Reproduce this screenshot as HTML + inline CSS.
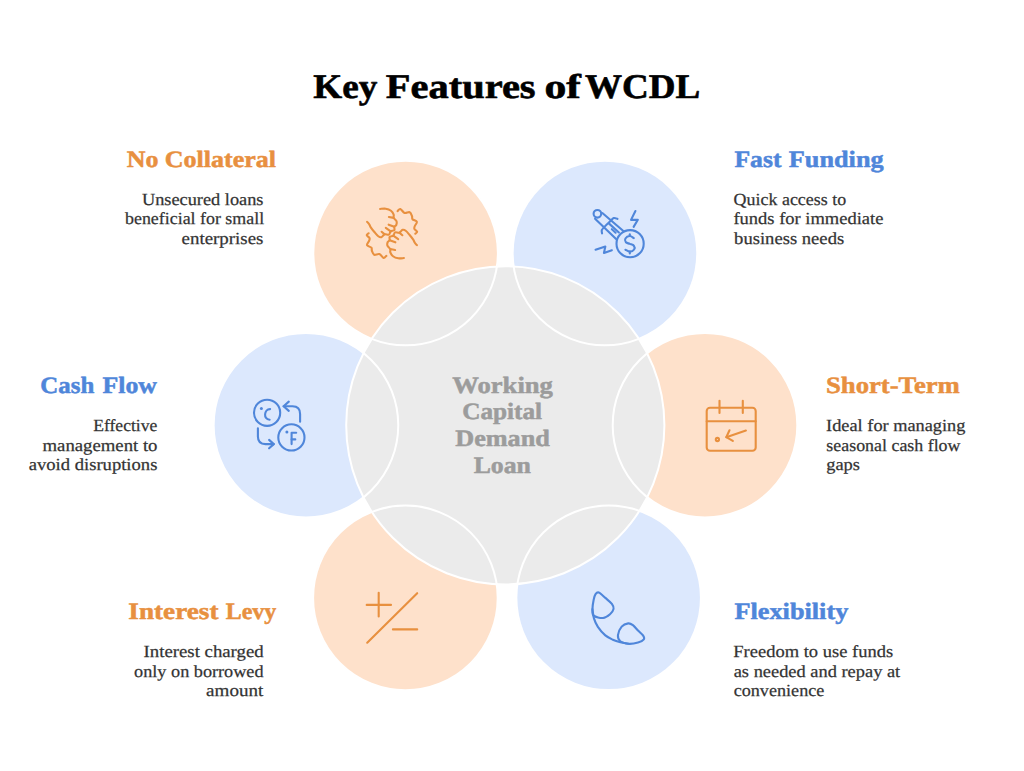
<!DOCTYPE html>
<html><head><meta charset="utf-8"><title>Key Features of WCDL</title>
<style>html,body{margin:0;padding:0;background:#fff;}body{width:1024px;height:771px;overflow:hidden;}svg{display:block;}text{font-family:"Liberation Serif",serif;text-rendering:geometricPrecision;}</style>
</head><body>
<svg width="1024" height="771" viewBox="0 0 1024 771">
<rect width="1024" height="771" fill="#ffffff"/>
<circle cx="405.60" cy="253.00" r="92.3" fill="#fee1cb"/>
<circle cx="604.95" cy="253.00" r="92.3" fill="#dce8fd"/>
<circle cx="705.00" cy="425.20" r="92.3" fill="#fee1cb"/>
<circle cx="608.65" cy="597.80" r="92.3" fill="#dce8fd"/>
<circle cx="405.40" cy="597.90" r="92.3" fill="#fee1cb"/>
<circle cx="305.95" cy="425.20" r="92.3" fill="#dce8fd"/>
<circle cx="505.3" cy="425.3" r="159.1" fill="#ebebeb"/>
<g fill="none" stroke="#ffffff" stroke-width="2">
<circle cx="405.60" cy="253.00" r="92.3"/>
<circle cx="604.95" cy="253.00" r="92.3"/>
<circle cx="705.00" cy="425.20" r="92.3"/>
<circle cx="608.65" cy="597.80" r="92.3"/>
<circle cx="405.40" cy="597.90" r="92.3"/>
<circle cx="305.95" cy="425.20" r="92.3"/>
<circle cx="505.3" cy="425.3" r="159.1"/>
</g>
<g fill="none" stroke="#e8903f" stroke-width="2.10" stroke-linecap="round" stroke-linejoin="round">
<path d="M380.08,208.93 C381.03,208.89 383.97,208.37 385.79,208.67 C387.61,208.97 389.66,209.75 390.98,210.74 C392.29,211.74 393.23,213.44 393.68,214.64 C394.13,215.83 393.19,216.78 393.68,217.90 C394.16,219.03 396.15,220.20 396.58,221.38 C397.01,222.56 396.64,224.10 396.27,225.01 C395.90,225.92 394.67,225.96 394.35,226.83 C394.03,227.69 394.96,229.44 394.35,230.20 C393.74,230.96 391.63,230.66 390.72,231.39 C389.81,232.13 389.91,234.12 388.90,234.61 C387.89,235.10 385.90,233.92 384.65,234.35 C383.39,234.78 382.44,236.88 381.38,237.20 C380.32,237.52 379.43,237.13 378.27,236.27 C377.10,235.41 375.63,233.50 374.38,232.02 C373.12,230.53 371.61,228.64 370.74,227.35 C369.88,226.05 369.79,225.14 369.19,224.23 C368.58,223.33 367.46,222.29 367.11,221.90"/>
<path d="M403.92,258.07 C402.97,258.11 400.03,258.63 398.21,258.33 C396.39,258.03 394.34,257.25 393.02,256.25 C391.71,255.26 390.77,253.56 390.32,252.36 C389.87,251.17 390.81,250.22 390.32,249.09 C389.84,247.97 387.85,246.80 387.42,245.62 C386.99,244.43 387.36,242.89 387.73,241.99 C388.10,241.08 389.33,241.04 389.65,240.17 C389.97,239.31 389.04,237.56 389.65,236.80 C390.26,236.04 392.37,236.34 393.28,235.61 C394.19,234.87 394.09,232.88 395.10,232.39 C396.11,231.90 398.10,233.08 399.35,232.65 C400.61,232.22 401.56,230.12 402.62,229.80 C403.68,229.48 404.57,229.86 405.73,230.73 C406.90,231.59 408.37,233.50 409.62,234.98 C410.88,236.47 412.39,238.36 413.26,239.65 C414.12,240.95 414.21,241.86 414.81,242.77 C415.42,243.67 416.54,244.71 416.89,245.10"/>
<path d="M393.68,217.90 L388.90,216.97"/>
<path d="M390.32,249.09 L395.10,250.03"/>
<path d="M394.35,226.83 L388.64,224.65"/>
<path d="M389.65,240.17 L395.36,242.35"/>
<path d="M390.72,231.39 L385.79,227.97"/>
<path d="M393.28,235.61 L398.21,239.03"/>
<path d="M384.65,234.35 L381.64,231.76"/>
<path d="M399.35,232.65 L402.36,235.24"/>
<path d="M397.55,211.07 C398.02,210.73 399.18,208.71 400.35,209.02 C401.52,209.33 403.00,212.41 404.55,212.94 C406.11,213.47 408.44,211.65 409.69,212.19 C410.93,212.74 411.56,215.02 412.02,216.21 C412.49,217.39 411.68,218.35 412.49,219.29 C413.30,220.22 416.49,220.69 416.88,221.81 C417.27,222.93 415.24,224.84 414.82,226.01 C414.40,227.18 413.97,227.85 414.36,228.81 C414.75,229.78 417.00,230.99 417.16,231.80 C417.31,232.61 415.60,233.36 415.29,233.67"/>
<path d="M386.35,255.89 C385.88,256.23 384.71,258.26 383.54,257.94 C382.38,257.63 380.90,254.55 379.34,254.02 C377.79,253.49 375.45,255.31 374.21,254.77 C372.96,254.22 372.34,251.94 371.87,250.75 C371.41,249.57 372.22,248.61 371.41,247.67 C370.60,246.74 367.41,246.27 367.02,245.15 C366.63,244.03 368.65,242.12 369.07,240.95 C369.49,239.78 369.93,239.11 369.54,238.15 C369.15,237.18 366.89,235.97 366.74,235.16 C366.58,234.35 368.29,233.61 368.61,233.29"/>
</g>
<g fill="none" stroke="#4f86da" stroke-width="2.10" stroke-linecap="round" stroke-linejoin="round">
<circle cx="597.4" cy="213.8" r="3.8"/>
<circle cx="630.1" cy="243.7" r="13.6"/>
<path d="M602.35,213.06 L623.08,230.80"/>
<path d="M595.07,218.66 L616.36,239.20"/>
<path d="M609.08,223.61 L618.88,232.48"/>
<path d="M611.88,229.21 L615.61,232.67"/>
<path d="M617.48,218.85 C616.86,218.72 614.99,217.67 613.75,218.10 C612.50,218.54 611.57,220.00 610.01,221.46 C608.46,222.93 605.78,225.43 604.41,226.88 C603.04,228.33 602.18,229.06 601.79,230.15 C601.41,231.24 602.03,232.87 602.07,233.41"/>
<path d="M635.41,211.01 L631.02,219.88 L637.84,219.69 L633.63,226.88"/>
<path d="M595.54,249.75 L605.34,246.49 L603.94,253.02 L611.88,250.22"/>
<path d="M633.82,238.08 C633.15,237.74 631.21,235.95 629.81,236.03 C628.41,236.11 626.07,237.51 625.42,238.55 C624.76,239.59 625.15,241.40 625.88,242.28 C626.62,243.17 628.48,243.30 629.81,243.87 C631.13,244.45 633.10,244.81 633.82,245.74 C634.54,246.67 634.77,248.49 634.10,249.47 C633.43,250.45 631.25,251.58 629.81,251.62 C628.36,251.67 626.15,250.07 625.42,249.75"/>
<path d="M629.81,234.35 L629.81,236.03"/>
<path d="M629.81,251.62 L629.81,253.40"/>
</g>
<g fill="none" stroke="#e8903f" stroke-width="2.10" stroke-linecap="round" stroke-linejoin="round">
<rect x="706.7" y="407.7" width="49" height="43" rx="3.3" ry="3.3"/>
<path d="M706.7,421.3 L755.7,421.3"/>
<path d="M719.5,400.7 L719.5,412.9"/>
<path d="M742.8,400.7 L742.8,412.9"/>
<circle cx="717.4" cy="439.5" r="1.6"/>
<path d="M745.9,430.6 L726.3,437.2"/>
<path d="M729.5,430.3 L726.3,437.2 L732.8,440.9"/>
</g>
<g fill="none" stroke="#4f86da" stroke-width="2.10" stroke-linecap="round" stroke-linejoin="round">
<path d="M598.81,592.46 C600.44,593.08 603.16,595.96 605.34,597.87 C607.52,599.79 610.51,602.11 611.88,603.94 C613.25,605.78 613.87,607.18 613.56,608.89 C613.25,610.60 611.77,612.70 610.01,614.21 C608.25,615.72 605.73,617.71 603.01,617.95 C600.29,618.18 595.43,617.09 593.67,615.61 C591.91,614.14 592.46,611.72 592.46,609.08 C592.46,606.43 593.16,602.23 593.67,599.74 C594.18,597.25 594.68,595.35 595.54,594.14 C596.39,592.92 597.17,591.84 598.81,592.46Z"/>
<path d="M592.46,609.08 C592.71,610.63 593.05,615.46 593.95,618.41 C594.85,621.37 595.97,623.99 597.87,626.82 C599.77,629.65 602.85,633.26 605.34,635.41 C607.83,637.56 610.32,638.57 612.81,639.70 C615.30,640.84 617.64,641.54 620.28,642.22 C622.93,642.91 627.28,643.55 628.69,643.81"/>
<path d="M628.22,623.36 C630.09,623.11 631.25,623.94 632.89,625.14 C634.52,626.34 636.31,628.79 638.02,630.55 C639.73,632.31 642.19,634.21 643.16,635.69 C644.12,637.17 644.67,638.29 643.81,639.42 C642.96,640.56 640.54,641.77 638.02,642.50 C635.50,643.24 631.64,644.01 628.69,643.81 C625.73,643.61 622.07,642.72 620.28,641.29 C618.49,639.86 617.71,637.66 617.95,635.22 C618.18,632.78 619.97,628.61 621.68,626.63 C623.39,624.65 626.35,623.61 628.22,623.36Z"/>
</g>
<g fill="none" stroke="#e8903f" stroke-width="2.10" stroke-linecap="round" stroke-linejoin="round">
<path d="M366.7,604.9 L391,604.9"/>
<path d="M378.7,592.7 L378.7,616.5"/>
<path d="M417.2,593.2 L367.2,642.7"/>
<path d="M392.9,629.4 L417.2,629.4"/>
</g>
<g fill="none" stroke="#4f86da" stroke-width="2.10" stroke-linecap="round" stroke-linejoin="round">
<circle cx="267.1" cy="412.8" r="13.1"/>
<circle cx="291.4" cy="437.4" r="13.1"/>
<path d="M270.1,409.1 C264.0,409.0 263.0,419.5 269.6,419.8"/>
<path d="M291.6,444.1 L291.6,432.7 L296.2,432.7"/>
<path d="M291.6,439.4 L295.3,439.4"/>
<path d="M300.1,421.7 L300.1,414 Q300.1,406.3 292.5,406.3 L283.6,406.3"/>
<path d="M288.8,401.6 L283.6,406.3 L288.8,410.9"/>
<path d="M257.9,428.2 L257.9,436.5 Q257.9,444.1 265.5,444.1 L273.8,444.1"/>
<path d="M269.1,439.9 L273.8,444.1 L269.1,448.3"/>
</g>
<circle cx="261.4" cy="408.6" r="1.5" fill="#4f86da"/>
<circle cx="286.9" cy="432.0" r="1.5" fill="#4f86da"/>
<text id="t0" x="313.37" y="97.8" font-size="34.5" fill="#000000" stroke="#000000" stroke-width="0.60" stroke-linejoin="round" font-weight="bold" textLength="63.98" lengthAdjust="spacingAndGlyphs">Key</text>
<text id="t1" x="385.86" y="97.8" font-size="34.5" fill="#000000" stroke="#000000" stroke-width="0.60" stroke-linejoin="round" font-weight="bold" textLength="149.72" lengthAdjust="spacingAndGlyphs">Features</text>
<text id="t2" x="544.50" y="97.8" font-size="34.5" fill="#000000" stroke="#000000" stroke-width="0.60" stroke-linejoin="round" font-weight="bold" textLength="36.44" lengthAdjust="spacingAndGlyphs">of</text>
<text id="t3" x="585.05" y="97.8" font-size="34.5" fill="#000000" stroke="#000000" stroke-width="0.60" stroke-linejoin="round" font-weight="bold" textLength="115.21" lengthAdjust="spacingAndGlyphs">WCDL</text>
<text id="t4" x="126.88" y="166.5" font-size="23.5" fill="#e8903f" stroke="#e8903f" stroke-width="0.50" stroke-linejoin="round" font-weight="bold" textLength="31.74" lengthAdjust="spacingAndGlyphs">No</text>
<text id="t5" x="164.70" y="166.5" font-size="23.5" fill="#e8903f" stroke="#e8903f" stroke-width="0.50" stroke-linejoin="round" font-weight="bold" textLength="111.37" lengthAdjust="spacingAndGlyphs">Collateral</text>
<text id="t6" x="141.98" y="204.6" font-size="17.0" fill="#333333" stroke="#333333" stroke-width="0.25" stroke-linejoin="round" textLength="121.51" lengthAdjust="spacingAndGlyphs">Unsecured loans</text>
<text id="t7" x="125.02" y="224.4" font-size="17.0" fill="#333333" stroke="#333333" stroke-width="0.25" stroke-linejoin="round" textLength="139.10" lengthAdjust="spacingAndGlyphs">beneficial for small</text>
<text id="t8" x="181.60" y="244.1" font-size="17.0" fill="#333333" stroke="#333333" stroke-width="0.25" stroke-linejoin="round" textLength="81.85" lengthAdjust="spacingAndGlyphs">enterprises</text>
<text id="t9" x="734.47" y="166.5" font-size="23.5" fill="#4f86da" stroke="#4f86da" stroke-width="0.50" stroke-linejoin="round" font-weight="bold" textLength="46.97" lengthAdjust="spacingAndGlyphs">Fast</text>
<text id="t10" x="788.74" y="166.5" font-size="23.5" fill="#4f86da" stroke="#4f86da" stroke-width="0.50" stroke-linejoin="round" font-weight="bold" textLength="94.90" lengthAdjust="spacingAndGlyphs">Funding</text>
<text id="t11" x="733.64" y="204.6" font-size="17.0" fill="#333333" stroke="#333333" stroke-width="0.25" stroke-linejoin="round" textLength="112.54" lengthAdjust="spacingAndGlyphs">Quick access to</text>
<text id="t12" x="733.43" y="224.4" font-size="17.0" fill="#333333" stroke="#333333" stroke-width="0.25" stroke-linejoin="round" textLength="149.95" lengthAdjust="spacingAndGlyphs">funds for immediate</text>
<text id="t13" x="734.10" y="244.1" font-size="17.0" fill="#333333" stroke="#333333" stroke-width="0.25" stroke-linejoin="round" textLength="110.09" lengthAdjust="spacingAndGlyphs">business needs</text>
<text id="t14" x="40.36" y="392.8" font-size="23.5" fill="#4f86da" stroke="#4f86da" stroke-width="0.50" stroke-linejoin="round" font-weight="bold" textLength="53.87" lengthAdjust="spacingAndGlyphs">Cash</text>
<text id="t15" x="102.54" y="392.8" font-size="23.5" fill="#4f86da" stroke="#4f86da" stroke-width="0.50" stroke-linejoin="round" font-weight="bold" textLength="54.47" lengthAdjust="spacingAndGlyphs">Flow</text>
<text id="t16" x="93.16" y="430.7" font-size="17.0" fill="#333333" stroke="#333333" stroke-width="0.25" stroke-linejoin="round" textLength="64.19" lengthAdjust="spacingAndGlyphs">Effective</text>
<text id="t17" x="42.50" y="450.6" font-size="17.0" fill="#333333" stroke="#333333" stroke-width="0.25" stroke-linejoin="round" textLength="114.98" lengthAdjust="spacingAndGlyphs">management to</text>
<text id="t18" x="28.71" y="470.2" font-size="17.0" fill="#333333" stroke="#333333" stroke-width="0.25" stroke-linejoin="round" textLength="128.68" lengthAdjust="spacingAndGlyphs">avoid disruptions</text>
<text id="t19" x="825.96" y="392.8" font-size="23.5" fill="#e8903f" stroke="#e8903f" stroke-width="0.50" stroke-linejoin="round" font-weight="bold" textLength="133.91" lengthAdjust="spacingAndGlyphs">Short-Term</text>
<text id="t20" x="826.12" y="430.7" font-size="17.0" fill="#333333" stroke="#333333" stroke-width="0.25" stroke-linejoin="round" textLength="139.33" lengthAdjust="spacingAndGlyphs">Ideal for managing</text>
<text id="t21" x="826.39" y="450.6" font-size="17.0" fill="#333333" stroke="#333333" stroke-width="0.25" stroke-linejoin="round" textLength="134.12" lengthAdjust="spacingAndGlyphs">seasonal cash flow</text>
<text id="t22" x="826.20" y="470.2" font-size="17.0" fill="#333333" stroke="#333333" stroke-width="0.25" stroke-linejoin="round" textLength="33.78" lengthAdjust="spacingAndGlyphs">gaps</text>
<text id="t23" x="128.39" y="619.0" font-size="23.5" fill="#e8903f" stroke="#e8903f" stroke-width="0.50" stroke-linejoin="round" font-weight="bold" textLength="90.08" lengthAdjust="spacingAndGlyphs">Interest</text>
<text id="t24" x="225.70" y="619.0" font-size="23.5" fill="#e8903f" stroke="#e8903f" stroke-width="0.50" stroke-linejoin="round" font-weight="bold" textLength="50.64" lengthAdjust="spacingAndGlyphs">Levy</text>
<text id="t25" x="143.53" y="656.8" font-size="17.0" fill="#333333" stroke="#333333" stroke-width="0.25" stroke-linejoin="round" textLength="120.15" lengthAdjust="spacingAndGlyphs">Interest charged</text>
<text id="t26" x="134.12" y="676.5" font-size="17.0" fill="#333333" stroke="#333333" stroke-width="0.25" stroke-linejoin="round" textLength="129.44" lengthAdjust="spacingAndGlyphs">only on borrowed</text>
<text id="t27" x="206.14" y="696.0" font-size="17.0" fill="#333333" stroke="#333333" stroke-width="0.25" stroke-linejoin="round" textLength="57.19" lengthAdjust="spacingAndGlyphs">amount</text>
<text id="t28" x="734.46" y="619.0" font-size="23.5" fill="#4f86da" stroke="#4f86da" stroke-width="0.50" stroke-linejoin="round" font-weight="bold" textLength="113.83" lengthAdjust="spacingAndGlyphs">Flexibility</text>
<text id="t29" x="733.33" y="656.8" font-size="17.0" fill="#333333" stroke="#333333" stroke-width="0.25" stroke-linejoin="round" textLength="159.81" lengthAdjust="spacingAndGlyphs">Freedom to use funds</text>
<text id="t30" x="733.71" y="676.5" font-size="17.0" fill="#333333" stroke="#333333" stroke-width="0.25" stroke-linejoin="round" textLength="166.54" lengthAdjust="spacingAndGlyphs">as needed and repay at</text>
<text id="t31" x="733.66" y="696.0" font-size="17.0" fill="#333333" stroke="#333333" stroke-width="0.25" stroke-linejoin="round" textLength="90.67" lengthAdjust="spacingAndGlyphs">convenience</text>
<text id="t32" x="452.35" y="392.6" font-size="23.5" fill="#9c9c9c" stroke="#9c9c9c" stroke-width="0.50" stroke-linejoin="round" font-weight="bold" textLength="100.59" lengthAdjust="spacingAndGlyphs">Working</text>
<text id="t33" x="462.16" y="419.4" font-size="23.5" fill="#9c9c9c" stroke="#9c9c9c" stroke-width="0.50" stroke-linejoin="round" font-weight="bold" textLength="79.96" lengthAdjust="spacingAndGlyphs">Capital</text>
<text id="t34" x="455.21" y="445.7" font-size="23.5" fill="#9c9c9c" stroke="#9c9c9c" stroke-width="0.50" stroke-linejoin="round" font-weight="bold" textLength="94.67" lengthAdjust="spacingAndGlyphs">Demand</text>
<text id="t35" x="473.66" y="472.5" font-size="23.5" fill="#9c9c9c" stroke="#9c9c9c" stroke-width="0.50" stroke-linejoin="round" font-weight="bold" textLength="57.31" lengthAdjust="spacingAndGlyphs">Loan</text>
</svg>
</body></html>
